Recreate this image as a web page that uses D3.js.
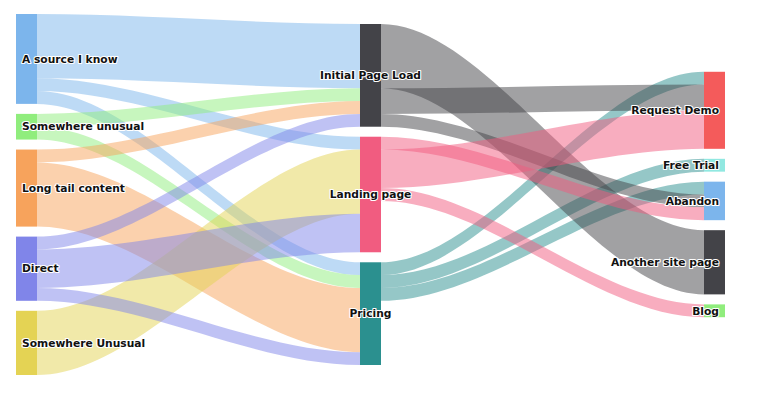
<!DOCTYPE html>
<html>
<head>
<meta charset="utf-8">
<script src="https://cdn.jsdelivr.net/npm/d3@7"></script>
<style>
	html, body { margin: 0; padding: 0; background: #fff; }
	.label {
		font-family: "DejaVu Sans", Verdana, sans-serif;
		font-size: 10.7px;
		font-weight: bold;
		fill: #111;
		stroke: #fff;
		stroke-width: 2.2px;
		stroke-linejoin: round;
		paint-order: stroke;
	}
</style>
</head>
<body>
<svg id="canvas" width="768" height="394"></svg>
<script>
// nodes, with the column each one sits in
const nodeNames = ["A source I know", "Somewhere unusual", "Long tail content", "Direct", "Somewhere Unusual",
	"Initial Page Load", "Landing page", "Pricing",
	"Request Demo", "Free Trial", "Abandon", "Another site page", "Blog"];
const nodeColumns = [0, 0, 0, 0, 0, 1, 1, 1, 2, 2, 2, 2, 2];
const nodeColors = ["#7cb5ec", "#90ed7d", "#f7a35c", "#8085e9", "#e4d354",
	"#434348", "#f15c80", "#2b908f",
	"#f45b5b", "#91e8e1", "#7cb5ec", "#434348", "#90ed7d"];

// links (the order is the stacking order at both ends)
const linkSources = ["A source I know", "A source I know", "A source I know",
	"Somewhere unusual", "Somewhere unusual",
	"Long tail content", "Long tail content",
	"Somewhere Unusual",
	"Direct", "Direct", "Direct",
	"Pricing", "Pricing", "Pricing",
	"Initial Page Load", "Initial Page Load", "Initial Page Load",
	"Landing page", "Landing page", "Landing page"];
const linkTargets = ["Initial Page Load", "Landing page", "Pricing",
	"Initial Page Load", "Pricing",
	"Initial Page Load", "Pricing",
	"Landing page",
	"Initial Page Load", "Landing page", "Pricing",
	"Request Demo", "Free Trial", "Abandon",
	"Another site page", "Request Demo", "Abandon",
	"Abandon", "Request Demo", "Blog"];
const linkValues = [5, 1, 1,
	1, 1,
	1, 5,
	5,
	1, 3, 1,
	1, 1, 1,
	5, 2, 1,
	1, 3, 1];

const plot = {left: 16, right: 725, top: 14, bottom: 375};
const nodeWidth = 21, nodePadding = 10, labelPadding = 6;

const svg = d3.select("#canvas");

const nodes = nodeNames.map((name, i) => ({name: name, col: nodeColumns[i], color: nodeColors[i], inLinks: [], outLinks: []}));
const byName = new Map(nodes.map(d => [d.name, d]));

const links = linkSources.map((s, i) => ({source: byName.get(s), target: byName.get(linkTargets[i]), value: linkValues[i]}));
links.forEach(l => { l.source.outLinks.push(l); l.target.inLinks.push(l); });
nodes.forEach(d => {
	d.value = Math.max(d3.sum(d.inLinks, l => l.value), d3.sum(d.outLinks, l => l.value));
});

const columns = d3.groups(nodes, d => d.col).map(g => g[1]);

// one vertical scale for every column, set by the fullest column
const ky = d3.min(columns, col => (plot.bottom - plot.top - (col.length - 1) * nodePadding) / d3.sum(col, d => d.value));
const yScale = d3.scaleLinear().domain([0, 1]).range([0, ky]);
const xScale = d3.scaleLinear().domain([0, d3.max(nodeColumns)]).range([plot.left, plot.right - nodeWidth]);

const midY = (plot.top + plot.bottom) / 2;
columns.forEach(col => {
	const total = d3.sum(col, d => yScale(d.value)) + (col.length - 1) * nodePadding;
	let y = midY - total / 2;
	col.forEach(d => {
		d.x0 = xScale(d.col);
		d.x1 = d.x0 + nodeWidth;
		d.y0 = y;
		d.y1 = y + yScale(d.value);
		y = d.y1 + nodePadding;
	});
});

nodes.forEach(d => {
	let sy = d.y0;
	d.outLinks.forEach(l => { l.sy0 = sy; sy += yScale(l.value); l.sy1 = sy; });
	let ty = d.y0;
	d.inLinks.forEach(l => { l.ty0 = ty; ty += yScale(l.value); l.ty1 = ty; });
});

// filled band: top and bottom curves, control points at a third of the way
function linkPath(l) {
	const x0 = l.source.x1, x1 = l.target.x0;
	const c = (x1 - x0) * 0.33;
	const p = d3.path();
	p.moveTo(x0, l.sy0);
	p.bezierCurveTo(x0 + c, l.sy0, x1 - c, l.ty0, x1, l.ty0);
	p.lineTo(x1, l.ty1);
	p.bezierCurveTo(x1 - c, l.ty1, x0 + c, l.sy1, x0, l.sy1);
	p.closePath();
	return p.toString();
}

svg.append("g")
	.selectAll("path")
	.data(links)
	.enter().append("path")
	.attr("d", linkPath)
	.attr("fill", d => d.source.color)
	.attr("fill-opacity", 0.5);

svg.append("g")
	.selectAll("rect")
	.data(nodes)
	.enter().append("rect")
	.attr("x", d => d.x0)
	.attr("y", d => d.y0)
	.attr("width", d => d.x1 - d.x0)
	.attr("height", d => d.y1 - d.y0)
	.attr("fill", d => d.color);

// labels centred on the node, pushed back inside the plot when they overflow
const label = svg.append("g")
	.selectAll("text")
	.data(nodes)
	.enter().append("text")
	.attr("class", "label")
	.attr("y", d => (d.y0 + d.y1) / 2)
	.attr("dy", "0.35em")
	.text(d => d.name);

label.each(function(d) {
	const w = this.getComputedTextLength();
	const cx = (d.x0 + d.x1) / 2;
	const t = d3.select(this);
	if (cx - w / 2 < plot.left + labelPadding) {
		t.attr("x", plot.left + labelPadding).attr("text-anchor", "start");
	} else if (cx + w / 2 > plot.right - labelPadding) {
		t.attr("x", plot.right - labelPadding).attr("text-anchor", "end");
	} else {
		t.attr("x", cx).attr("text-anchor", "middle");
	}
});
</script>
</body>
</html>
